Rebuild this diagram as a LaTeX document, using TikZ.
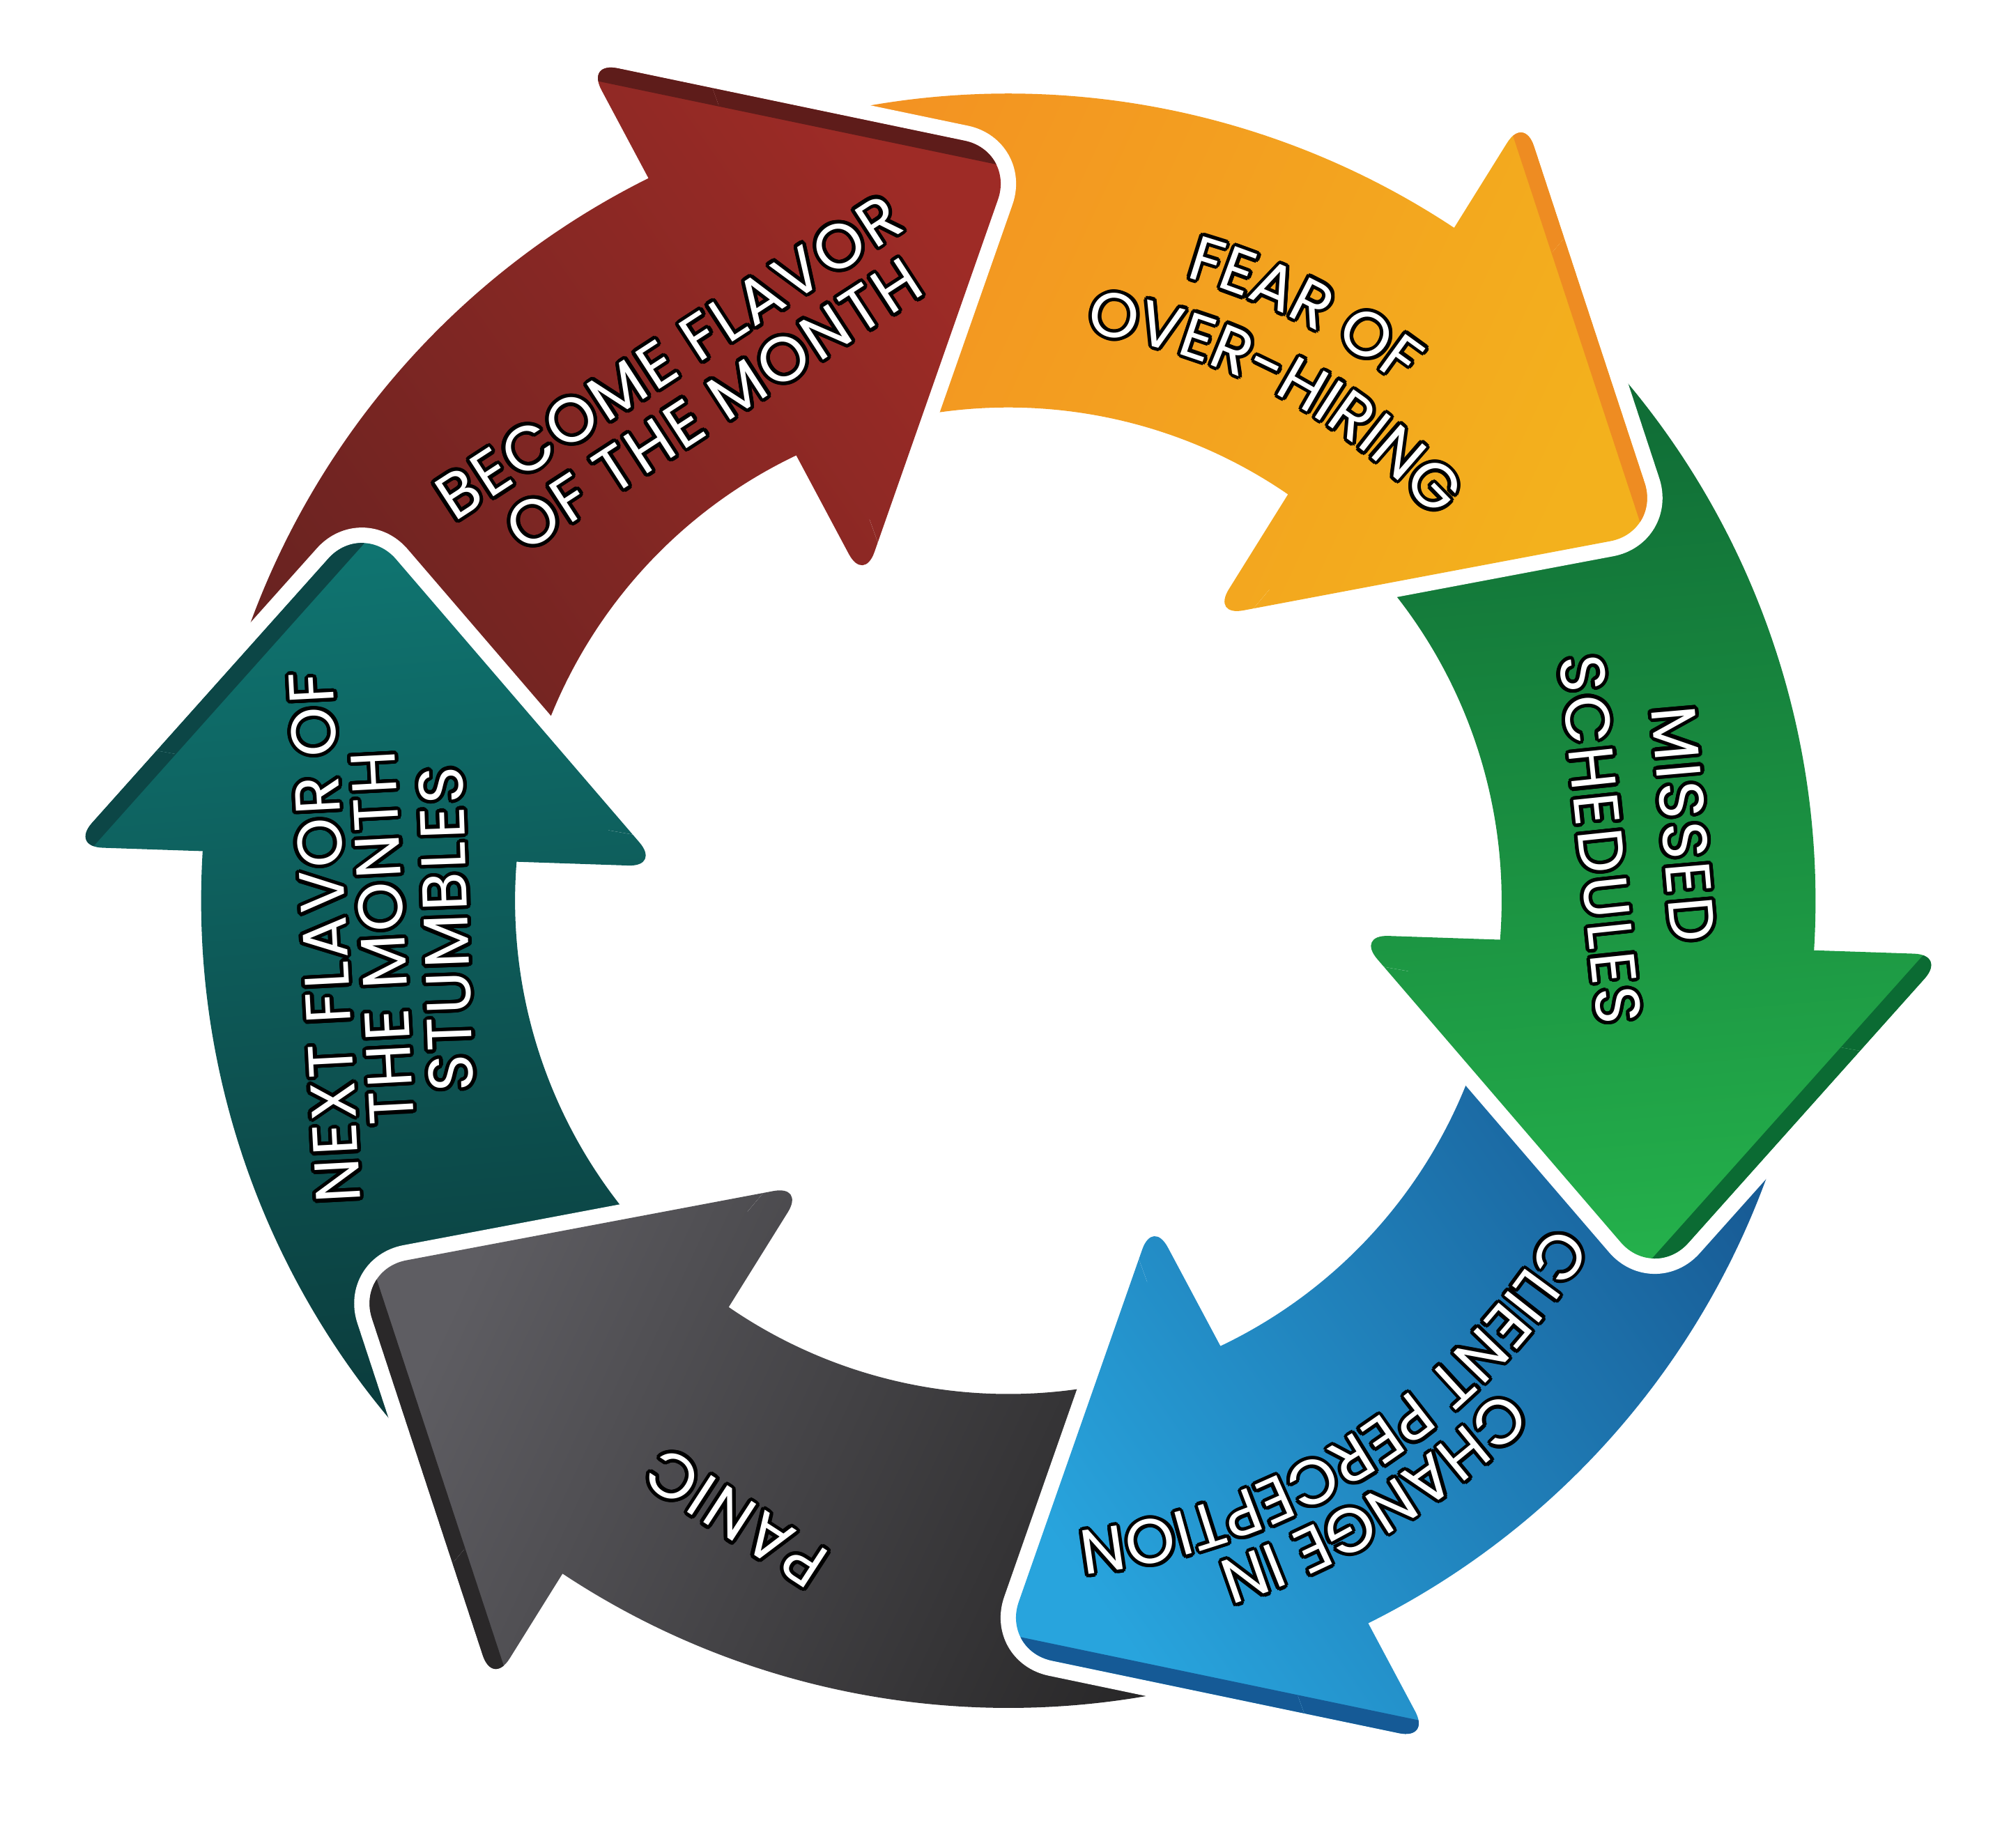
\documentclass[tikz,border=0pt]{standalone}
\usepackage{fontspec}
\usepackage[copies]{contour}
\usetikzlibrary{calc,decorations.text}
\newfontfamily\lblfont{Poppins}[LetterSpace=5]
\newfontfamily\arcfont{Poppins}
\newcommand{\lblsize}{\lblfont\fontsize{14}{16}\selectfont}
\newcommand{\arcsize}{\arcfont\fontsize{14}{16}\selectfont}
\contourlength{0.8pt}
\contournumber{24}

\definecolor{greentail}{HTML}{0E6634}
\definecolor{greenhead}{HTML}{24B04B}
\definecolor{greenedge}{HTML}{0B6B33}
\definecolor{orangetail}{HTML}{F39222}
\definecolor{orangehead}{HTML}{F3B11D}
\definecolor{orangeedge}{HTML}{EE8C22}
\definecolor{redtail}{HTML}{6A2321}
\definecolor{redhead}{HTML}{9E2B26}
\definecolor{rededge}{HTML}{5E1C1A}
\definecolor{tealtail}{HTML}{0B3738}
\definecolor{tealhead}{HTML}{0F7470}
\definecolor{tealedge}{HTML}{0C4646}
\definecolor{panictail}{HTML}{282728}
\definecolor{panichead}{HTML}{5E5D62}
\definecolor{panicedge}{HTML}{2A2829}
\definecolor{bluetail}{HTML}{185C96}
\definecolor{bluehead}{HTML}{28A4DD}
\definecolor{blueedge}{HTML}{155A96}

\tikzset{
  arrowbody/.style={line join=round},
  gapline/.style={draw=white, line width=0.24cm, line join=round},
  edgeline/.style={line width=0.26cm},
  lbl/.style={text=white, font=\lblsize, inner sep=0pt},
}

% round corner at #2 between #1 and #3
\newcommand{\rcorner}[5]{%
  -- ($(#2)!#4!(#1)$) .. controls ($(#2)!#5!(#1)$) and ($(#2)!#5!(#3)$) .. ($(#2)!#4!(#3)$)}

% one arrow of the ring, turned by #1 degrees: band, then head
\newcommand{\arrowpath}[1]{%
  (#1+46:3.85) -- (#1+48:6.3) arc[start angle=#1+48, end angle=#1-6, radius=6.3]
  -- (#1-6:3.85) arc[start angle=#1-6, end angle=#1+46, radius=3.85] -- cycle
  ($(#1-3.3:7.33)!0.5!(#1-5.6:2.73)$)
  \rcorner{#1-5.6:2.73}{#1-3.3:7.33}{#1-30.5:5.85}{0.25cm}{0.11cm}
  \rcorner{#1-3.3:7.33}{#1-30.5:5.85}{#1-5.6:2.73}{0.4cm}{0.18cm}
  \rcorner{#1-30.5:5.85}{#1-5.6:2.73}{#1-3.3:7.33}{0.25cm}{0.11cm}
  -- cycle}

% outlined text along a circle: radius, start, end, text
\newcommand{\arclabel}[4]{%
  \foreach \o in {0,30,...,330}
    \path[shift={(\o:0.028)}, decorate, decoration={text along path, text color=black,
      text align=center, text={|\arcsize|#4}}]
      (#2:#1) arc[start angle=#2, end angle=#3, radius=#1];
  \path[decorate, decoration={text along path, text color=white,
      text align=center, text={|\arcsize|#4}}]
      (#2:#1) arc[start angle=#2, end angle=#3, radius=#1];
}

\begin{document}
\begin{tikzpicture}
  \useasboundingbox (-7.87,-7.39) rectangle (7.81,7.03);
  \coordinate (ctr) at (0,0);
  % arrows
  \foreach \a/\t/\h/\e in {0/greentail/greenhead/greenedge, 60/orangetail/orangehead/orangeedge,
      120/redtail/redhead/rededge, 180/tealtail/tealhead/tealedge,
      240/panictail/panichead/panicedge, 300/bluetail/bluehead/blueedge}{
    \pgfmathsetmacro{\sa}{\a+5}
    \shade[arrowbody, top color=\t, bottom color=\h, shading angle=\sa] \arrowpath{\a};
    \begin{scope}
      \clip \arrowpath{\a};
      \draw[\e, edgeline] (\a-3.3:7.33) -- (\a-30.5:5.85);
    \end{scope}
  }
  % heads again, over the next tail, with a white gap round them
  \foreach \a/\t/\h/\e in {0/greentail/greenhead/greenedge, 60/orangetail/orangehead/orangeedge,
      120/redtail/redhead/rededge, 180/tealtail/tealhead/tealedge,
      240/panictail/panichead/panicedge, 300/bluetail/bluehead/blueedge}{
    \pgfmathsetmacro{\sa}{\a+5}
    \begin{scope}
      \clip (ctr) -- (\a-10:9) arc[start angle=\a-10, end angle=\a-45, radius=9] -- cycle;
      \path[gapline] \arrowpath{\a};
      \shade[arrowbody, top color=\t, bottom color=\h, shading angle=\sa] \arrowpath{\a};
      \begin{scope}
        \clip \arrowpath{\a};
        \draw[\e, edgeline] (\a-3.3:7.33) -- (\a-30.5:5.85);
      \end{scope}
    \end{scope}
  }
  % labels
  \node[lbl, rotate=33] (flavor1) at (122:4.99) {\contour{black}{BECOME FLAVOR}};
  \node[lbl, rotate=33] (flavor2) at (120.7:4.49) {\contour{black}{OF THE MONTH}};
  \arclabel{5.06}{103.4}{23.4}{FEAR OF}
  \arclabel{4.47}{102}{22}{OVER-HIRING}
  \node[lbl, rotate=-85] (missed1) at (6.5:5.29) {\contour{black}{MISSED}};
  \node[lbl, rotate=-84] (missed2) at (5.9:4.63) {\contour{black}{SCHEDULES}};
  \arclabel{5.42}{-18.6}{-98.6}{CHANGE IN}
  \arclabel{4.95}{-17.2}{-97.2}{CLIENT PERCEPTION}
  \node[lbl, rotate=147] (panic) at (246.2:5.25) {\contour{black}{PANIC}};
  \node[lbl, rotate=93] (next1) at (183.1:5.33) {\contour{black}{NEXT FLAVOR OF}};
  \node[lbl, rotate=93] (next2) at (183.4:4.88) {\contour{black}{THE MONTH}};
  \node[lbl, rotate=92] (next3) at (182.9:4.38) {\contour{black}{STUMBLES}};
\end{tikzpicture}
\end{document}
